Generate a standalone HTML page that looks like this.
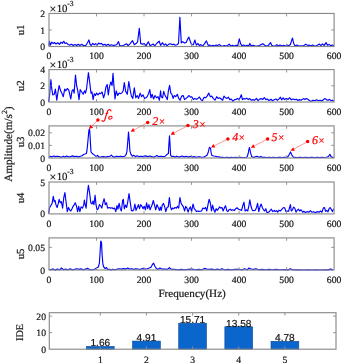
<!DOCTYPE html>
<html><head><meta charset="utf-8"><style>
html,body{margin:0;padding:0;background:#fff;}
svg{display:block;will-change:transform;text-rendering:geometricPrecision;}
text{stroke:#141414;stroke-width:0.2px;}
text.r{stroke:#ff0000;}
text.w{stroke:none;}
</style></head><body>
<svg width="342" height="363" viewBox="0 0 342 363">
<rect width="342" height="363" fill="#fff"/>
<g font-family='"Liberation Serif", serif' font-size="9.7" fill="#141414">
<polyline points="48.9,45.7 49.5,41.3 50.4,45.1 51.8,42.2 53.0,43.4 54.4,42.5 56.0,44.0 57.7,42.8 59.5,44.3 61.0,42.2 62.4,43.4 63.8,41.3 65.0,43.6 66.5,42.8 68.2,44.5 70.0,45.1 71.5,44.3 73.1,45.5 75.0,44.5 76.6,45.5 78.2,44.3 79.9,45.5 81.7,44.3 83.4,45.5 85.8,45.5 87.5,42.8 88.9,39.9 90.1,44.5 91.3,45.5 92.8,43.4 94.3,44.8 95.7,43.6 97.1,45.1 98.6,43.1 100.1,44.0 101.5,43.4 102.9,45.1 104.8,44.3 106.2,45.5 108.0,44.3 109.7,45.5 111.5,44.8 113.2,45.5 115.0,45.1 116.7,44.8 118.5,41.6 119.7,45.5 121.4,45.7 122.5,45.7 124.3,45.0 126.7,43.8 128.1,45.7 130.2,43.6 132.5,40.6 134.3,44.7 136.0,43.6 137.6,41.8 139.3,28.3 140.7,43.6 142.5,44.1 144.2,43.6 146.0,45.9 148.3,41.8 150.1,45.7 151.8,44.7 153.3,44.1 154.7,45.9 157.1,43.0 159.2,41.2 160.6,45.3 162.6,42.7 164.1,45.2 165.6,43.8 167.0,45.8 168.8,44.1 170.5,43.8 172.3,44.7 173.8,44.1 175.2,45.2 177.0,44.7 178.5,43.5 179.9,17.2 181.3,42.9 182.8,41.7 184.6,43.1 186.3,42.3 187.5,39.4 188.9,37.1 190.2,41.2 191.6,44.7 193.3,44.7 194.9,40.0 196.3,45.2 198.0,43.5 199.4,45.6 200.9,44.6 202.7,46.1 204.4,43.8 206.4,40.9 208.3,45.6 209.7,45.0 211.1,46.1 213.0,45.3 214.4,46.1 216.1,45.0 217.6,45.6 219.1,44.4 220.8,45.8 222.6,46.1 224.3,45.6 226.1,46.1 227.8,45.3 229.3,44.1 230.7,46.1 232.5,45.3 234.3,46.1 236.0,45.3 237.8,45.3 239.3,38.8 240.7,43.8 242.1,45.8 243.6,45.0 245.4,46.1 247.1,45.3 248.9,45.8 249.8,43.4 251.0,45.8 253.0,45.3 254.7,45.8 257.1,46.1 259.4,45.6 261.1,44.6 262.9,43.8 264.7,45.3 266.4,46.1 268.2,45.6 270.5,42.6 271.7,45.3 273.2,46.1 275.4,45.8 276.9,44.6 278.4,46.1 280.1,45.0 282.0,46.1 283.6,45.3 285.5,46.1 287.1,45.0 288.6,45.8 290.4,44.6 291.5,40.9 292.5,38.0 293.6,43.2 295.1,46.1 296.8,45.0 298.6,46.1 300.7,45.8 302.7,46.1 304.4,45.3 305.8,44.1 307.7,45.6 309.1,45.0 310.8,46.1 312.6,45.0 314.3,45.8 316.0,46.1 317.8,45.0 319.5,44.1 320.9,45.6 322.5,43.8 324.2,45.6 326.0,42.6 327.5,45.3 329.1,44.4 330.7,45.6 332.4,45.0 333.8,45.8" fill="none" stroke="#0000ff" stroke-width="1.15" stroke-linejoin="round"/>
<polyline points="48.6,101.9 49.5,96.1 50.9,79.7 51.8,89.1 52.8,94.9 54.2,94.3 55.4,89.1 56.8,100.2 57.9,92.6 59.1,85.5 60.6,90.8 61.8,93.1 63.3,96.7 64.7,89.1 65.9,90.8 67.3,88.5 68.8,90.2 70.8,99.0 72.0,90.8 73.1,89.6 74.1,93.1 75.5,75.0 76.6,85.5 77.8,90.8 79.0,99.6 80.2,89.6 81.7,92.0 83.2,94.3 84.6,90.8 85.5,93.1 86.6,88.5 88.4,72.7 89.8,83.2 91.0,93.1 92.0,92.0 93.1,99.6 94.3,93.7 95.5,95.5 96.6,93.1 98.0,94.9 99.4,93.1 100.6,93.7 102.1,92.0 103.6,97.8 104.8,93.7 106.0,86.7 107.2,84.4 108.3,94.9 109.5,86.7 110.9,82.0 112.1,85.5 113.0,73.3 114.2,89.1 115.0,99.0 116.2,90.8 117.7,95.5 119.1,93.1 120.8,93.7 122.0,92.6 123.2,90.8 124.3,82.6 125.7,91.4 127.3,94.3 128.8,81.5 130.2,90.2 131.4,96.1 132.8,98.4 134.3,87.9 135.8,97.8 137.2,95.5 138.6,98.4 140.1,93.1 141.6,96.7 143.1,94.9 144.5,98.4 146.0,97.8 147.5,96.1 148.7,93.1 149.8,89.6 151.0,97.8 152.2,94.3 153.6,99.0 155.0,95.5 156.5,97.8 158.0,96.7 159.4,100.2 160.6,90.8 161.2,96.7 162.6,97.8 163.7,91.4 164.9,94.9 166.1,97.2 167.3,99.6 168.4,90.8 169.6,85.3 170.8,93.1 171.9,94.3 173.1,98.4 174.3,95.5 175.8,96.7 177.3,94.3 178.7,98.4 180.1,100.2 181.6,96.1 183.2,95.5 184.6,99.6 186.0,98.4 187.5,97.2 189.0,95.5 190.4,97.2 191.8,96.7 193.3,99.6 194.9,98.4 196.5,99.3 198.0,98.4 199.4,97.0 200.9,99.6 202.4,100.7 204.1,97.2 205.6,97.8 207.1,96.1 208.8,93.1 210.3,96.7 211.8,96.1 213.2,98.4 215.0,100.2 216.7,96.7 218.1,98.4 219.6,97.8 221.2,99.0 222.6,100.2 224.0,96.1 225.5,97.8 227.0,98.4 228.4,97.2 229.8,99.6 231.3,99.0 232.9,101.3 234.5,99.6 236.0,99.5 237.4,98.6 238.9,99.6 240.1,97.8 241.3,94.7 242.4,99.6 244.0,98.6 245.4,99.0 246.8,98.2 248.3,99.6 249.8,98.6 251.2,100.2 253.0,99.6 254.7,100.2 256.5,98.4 258.0,100.7 259.4,99.3 261.1,98.6 262.7,99.6 264.3,97.5 265.8,99.6 267.3,99.0 269.0,100.5 270.9,99.3 272.5,100.7 274.2,99.8 275.8,99.0 277.5,100.2 279.3,98.6 280.4,97.2 281.6,99.8 283.1,97.8 284.5,99.6 286.3,98.6 288.0,99.3 289.8,97.8 291.3,99.8 292.9,99.0 294.8,99.6 296.5,99.3 298.0,100.5 299.5,99.6 301.1,100.2 302.0,99.6 303.4,98.6 304.9,99.6 306.4,98.6 307.8,99.3 309.6,100.7 311.4,101.3 313.1,100.2 314.9,100.7 316.6,99.8 318.4,100.7 320.1,100.2 321.9,101.0 323.3,99.8 324.8,98.6 326.3,99.6 328.0,100.2 329.5,99.3 331.0,100.7 332.4,100.2 333.8,101.3" fill="none" stroke="#0000ff" stroke-width="1.15" stroke-linejoin="round"/>
<polyline points="48.9,157.4 50.4,156.3 51.8,156.9 53.6,156.0 55.5,156.6 57.4,156.2 59.5,156.6 61.4,157.2 63.3,156.3 65.0,157.1 66.8,155.9 68.7,156.9 70.6,156.6 72.6,155.9 74.5,156.6 76.7,156.3 78.5,156.9 80.4,156.3 82.1,155.8 83.5,154.5 85.0,154.0 86.3,153.5 86.9,151.0 87.5,145.6 88.3,136.8 88.9,130.5 89.3,129.3 89.7,130.5 90.1,136.8 90.6,145.6 91.0,151.8 92.3,153.5 94.1,154.9 96.3,156.6 97.6,155.3 98.9,157.1 101.1,156.9 103.3,156.6 105.5,157.1 107.7,156.6 109.9,156.2 111.4,155.2 112.8,156.6 114.7,157.1 116.5,156.3 118.7,156.6 120.6,156.2 122.6,156.6 124.8,156.2 126.2,154.4 127.0,150.9 127.8,141.2 128.5,132.0 129.3,141.2 129.9,150.9 131.0,154.4 132.3,156.2 133.7,155.3 135.4,156.6 137.2,155.8 138.9,156.6 141.0,156.2 143.5,156.6 145.4,155.9 147.8,156.6 149.7,156.0 151.6,156.6 153.6,157.2 155.5,156.3 157.0,155.5 158.4,156.6 160.9,156.2 163.1,156.6 165.3,156.2 167.0,154.4 168.4,153.6 168.8,145.6 169.5,135.8 170.1,145.6 170.6,155.3 171.9,156.6 173.2,156.2 175.0,157.1 176.7,156.2 178.5,157.1 180.4,156.6 182.3,156.0 184.3,156.9 186.2,156.3 188.4,157.1 190.6,156.3 192.5,157.1 194.2,156.6 196.0,157.2 198.0,156.8 199.7,156.8 201.6,157.2 203.5,157.2 205.3,156.2 207.0,155.2 208.2,152.5 209.1,148.4 209.6,147.3 210.5,148.4 211.1,152.5 211.7,155.2 213.5,156.0 215.2,156.3 216.8,156.6 218.7,156.9 220.6,157.4 222.3,157.2 224.5,157.5 226.7,157.3 228.9,157.6 231.1,157.3 233.3,157.5 235.5,157.3 237.7,157.5 239.9,157.2 242.1,157.5 244.2,157.5 246.4,157.2 247.2,156.6 248.2,153.5 248.9,149.5 249.4,147.6 249.9,149.5 250.5,152.5 250.8,153.7 251.7,156.6 253.4,157.4 255.2,156.8 257.0,156.3 258.8,157.2 260.7,156.6 262.5,157.4 264.7,157.2 266.9,157.5 269.0,157.2 271.2,157.5 273.4,157.4 275.6,157.5 277.8,157.4 280.0,157.2 282.2,157.5 284.4,157.2 286.6,157.4 287.8,156.9 289.2,154.5 290.5,151.9 291.7,154.8 293.7,157.5 295.1,157.4 297.4,157.5 299.9,157.4 302.8,157.5 305.7,157.4 308.7,157.5 311.6,157.4 314.5,157.5 317.4,157.4 319.9,157.5 321.8,157.2 324.0,157.5 326.2,157.2 328.4,156.5 329.9,154.3 331.0,156.5 332.5,157.5 333.8,157.4" fill="none" stroke="#0000ff" stroke-width="1.15" stroke-linejoin="round"/>
<polyline points="48.6,213.3 49.5,208.1 50.7,205.7 52.1,203.4 53.3,196.4 54.2,201.6 55.1,200.5 55.9,204.6 57.1,207.5 58.3,203.4 59.1,199.3 60.3,202.8 61.4,201.6 62.6,208.1 63.8,197.5 64.9,192.6 66.1,202.2 67.3,211.6 68.5,207.5 69.6,209.8 70.8,211.0 72.0,208.7 73.1,206.3 74.3,204.6 75.2,202.8 76.4,205.7 77.6,211.6 78.7,206.3 79.9,211.6 81.1,206.9 82.5,208.1 83.7,205.1 84.4,200.0 84.9,203.4 86.1,208.1 87.3,194.0 88.4,185.3 89.6,192.9 90.8,202.8 92.0,204.0 92.9,201.1 93.9,204.6 95.1,195.2 96.0,204.6 97.1,209.8 98.3,208.7 99.4,204.6 100.6,205.7 101.8,208.1 102.9,202.8 104.1,198.7 105.3,204.6 106.5,202.8 107.6,208.1 109.1,207.5 110.7,208.1 112.1,207.8 113.2,208.7 114.6,208.1 115.8,211.6 117.0,205.7 117.9,209.2 119.1,203.4 120.3,208.7 121.4,211.0 122.6,200.5 123.3,199.3 124.3,208.7 125.5,205.1 126.7,207.5 127.8,201.6 129.0,193.5 130.2,202.2 131.4,210.4 132.5,211.0 133.7,209.8 134.9,204.0 136.0,210.4 137.2,207.5 138.4,204.6 139.5,208.7 140.7,204.6 141.9,206.3 143.1,208.7 144.2,206.3 145.4,209.8 146.6,202.8 147.7,208.7 148.9,204.6 150.1,209.8 151.2,206.9 152.2,204.6 153.3,200.5 154.5,205.1 155.7,209.8 156.9,204.6 158.0,206.9 159.4,210.4 160.4,207.0 161.2,210.4 162.3,205.1 163.5,203.4 164.7,206.9 165.8,211.6 167.0,207.5 168.2,206.9 169.4,197.5 170.5,206.9 171.5,209.8 172.6,208.1 173.8,208.7 175.0,207.5 176.4,208.1 177.5,206.3 178.7,208.1 179.9,197.5 181.1,203.4 182.2,205.1 183.4,206.9 184.6,211.0 185.7,206.3 186.9,208.1 188.1,212.2 189.2,208.7 190.4,206.9 191.6,211.6 193.0,204.0 194.2,208.7 195.3,209.8 196.5,211.6 197.7,211.0 199.2,211.4 201.5,211.0 202.9,208.1 204.4,208.7 205.6,207.5 206.8,211.0 207.9,205.1 209.1,199.3 210.3,202.8 211.5,211.0 212.6,205.1 213.8,209.8 215.0,212.2 216.1,208.7 217.3,210.4 218.5,208.7 219.6,206.9 220.8,208.1 222.0,207.5 223.1,211.0 224.3,208.1 225.5,205.7 226.7,210.4 227.8,211.6 229.0,209.8 230.2,209.2 231.3,210.4 232.9,209.8 234.3,210.6 235.7,208.7 237.0,207.8 238.6,209.2 240.1,209.8 241.6,210.4 242.8,205.7 244.0,202.2 245.1,211.0 246.5,209.8 247.7,211.0 248.9,205.7 249.8,199.9 251.0,206.3 252.4,210.4 253.8,210.6 255.3,210.2 256.5,207.5 257.6,203.4 258.8,211.6 260.0,206.9 261.1,204.0 262.3,207.5 263.5,209.8 264.7,211.0 265.8,208.7 267.0,212.7 268.5,212.2 269.9,211.0 271.3,209.2 272.8,211.6 274.4,210.4 275.2,211.6 276.6,210.6 277.7,212.2 278.9,210.2 280.4,211.0 282.0,209.2 283.4,207.5 284.8,208.1 285.9,211.6 287.1,211.0 288.6,211.3 289.4,208.1 290.4,204.6 291.3,211.0 292.5,209.8 293.6,207.1 294.8,208.1 296.0,212.2 297.2,210.2 298.6,209.2 299.7,211.0 301.1,209.8 302.7,212.2 303.8,211.3 305.5,212.5 307.3,211.6 309.0,212.2 310.4,210.6 311.9,212.2 313.7,211.8 315.5,212.7 317.2,211.6 319.0,212.2 320.5,211.0 321.9,212.2 323.3,208.1 324.5,207.5 325.6,211.3 326.8,210.4 328.0,211.8 329.1,208.7 330.1,207.5 331.2,209.2 332.4,211.6 333.6,208.7" fill="none" stroke="#0000ff" stroke-width="1.15" stroke-linejoin="round"/>
<polyline points="49.2,269.4 50.9,269.8 53.0,268.9 55.1,270.1 57.4,269.1 59.7,269.8 61.4,268.0 63.5,269.8 65.6,269.1 67.9,269.8 70.2,268.9 72.3,269.8 74.4,269.4 76.7,268.7 79.0,269.4 81.1,268.9 83.2,269.8 85.5,269.1 87.8,268.4 89.9,269.8 92.2,269.7 94.4,269.2 96.6,268.1 98.3,267.0 99.4,263.1 100.1,252.1 100.8,241.1 101.5,242.2 102.1,254.3 102.9,264.2 103.8,267.0 105.2,268.6 106.5,267.5 107.6,269.5 109.3,269.2 110.9,270.0 112.6,269.2 114.2,269.8 116.6,269.4 118.9,268.7 121.2,269.1 123.6,268.6 125.9,269.1 127.7,268.0 129.4,269.1 131.7,268.7 133.8,269.4 135.9,268.7 138.2,269.1 140.5,269.4 142.6,268.4 144.7,269.1 147.0,268.7 149.3,268.0 151.0,267.2 152.2,264.9 153.5,263.1 154.9,266.3 156.3,268.4 158.0,269.4 159.8,268.0 161.9,269.1 164.6,269.1 167.3,269.4 169.4,267.7 171.1,269.1 174.3,269.4 177.8,269.8 181.3,269.4 184.8,269.8 188.3,269.4 191.8,269.1 195.3,269.8 198.8,269.4 202.0,269.8 204.5,268.4 206.7,269.1 209.4,269.4 212.0,269.1 214.6,269.8 217.3,269.1 219.9,269.8 221.8,268.7 224.4,269.8 227.9,269.4 231.4,269.8 234.9,269.4 238.4,269.4 241.9,269.8 244.6,268.7 247.2,269.8 249.0,268.0 251.2,269.1 253.3,269.4 256.0,268.7 258.6,269.8 262.1,269.4 265.6,269.8 269.1,269.4 272.6,269.8 276.1,269.4 280.0,269.8 284.0,269.6 288.0,269.9 290.3,268.7 292.5,269.8 296.0,269.9 300.0,269.7 304.0,270.0 308.0,269.8 312.0,270.0 316.0,269.7 320.0,270.0 324.0,269.8 328.0,269.9 330.6,269.1 333.0,269.9" fill="none" stroke="#0000ff" stroke-width="1.15" stroke-linejoin="round"/>
<rect x="49.0" y="13.45" width="285.10" height="33.05" fill="none" stroke="#8a8a8a" stroke-width="1.15"/>
<text x="49.00" y="59.20" text-anchor="middle">0</text>
<path d="M96.52 13.45v2.9M96.52 46.5v-2.9" stroke="#8a8a8a" stroke-width="0.9"/>
<text x="96.52" y="59.20" text-anchor="middle">100</text>
<path d="M144.03 13.45v2.9M144.03 46.5v-2.9" stroke="#8a8a8a" stroke-width="0.9"/>
<text x="144.03" y="59.20" text-anchor="middle">200</text>
<path d="M191.55 13.45v2.9M191.55 46.5v-2.9" stroke="#8a8a8a" stroke-width="0.9"/>
<text x="191.55" y="59.20" text-anchor="middle">300</text>
<path d="M239.07 13.45v2.9M239.07 46.5v-2.9" stroke="#8a8a8a" stroke-width="0.9"/>
<text x="239.07" y="59.20" text-anchor="middle">400</text>
<path d="M286.58 13.45v2.9M286.58 46.5v-2.9" stroke="#8a8a8a" stroke-width="0.9"/>
<text x="286.58" y="59.20" text-anchor="middle">500</text>
<text x="334.10" y="59.20" text-anchor="middle">600</text>
<text x="45.0" y="50.00" text-anchor="end">0</text>
<path d="M49.0 30.00h2.9M334.1 30.00h-2.9" stroke="#8a8a8a" stroke-width="0.9"/>
<text x="45.0" y="33.50" text-anchor="end">1</text>
<text x="45.0" y="16.95" text-anchor="end">2</text>
<text x="49.6" y="12.65" font-size="12">×</text><text x="56.7" y="11.65" font-size="10.8">10</text><text x="67.2" y="5.85" font-size="7.6">-3</text>
<text transform="translate(24.2,29.98) rotate(-90)" text-anchor="middle" font-size="10.8">u1</text>
<rect x="49.0" y="69.6" width="285.10" height="32.40" fill="none" stroke="#8a8a8a" stroke-width="1.15"/>
<text x="49.00" y="114.70" text-anchor="middle">0</text>
<path d="M96.52 69.6v2.9M96.52 102.0v-2.9" stroke="#8a8a8a" stroke-width="0.9"/>
<text x="96.52" y="114.70" text-anchor="middle">100</text>
<path d="M144.03 69.6v2.9M144.03 102.0v-2.9" stroke="#8a8a8a" stroke-width="0.9"/>
<text x="144.03" y="114.70" text-anchor="middle">200</text>
<path d="M191.55 69.6v2.9M191.55 102.0v-2.9" stroke="#8a8a8a" stroke-width="0.9"/>
<text x="191.55" y="114.70" text-anchor="middle">300</text>
<path d="M239.07 69.6v2.9M239.07 102.0v-2.9" stroke="#8a8a8a" stroke-width="0.9"/>
<text x="239.07" y="114.70" text-anchor="middle">400</text>
<path d="M286.58 69.6v2.9M286.58 102.0v-2.9" stroke="#8a8a8a" stroke-width="0.9"/>
<text x="286.58" y="114.70" text-anchor="middle">500</text>
<text x="334.10" y="114.70" text-anchor="middle">600</text>
<text x="45.0" y="105.50" text-anchor="end">0</text>
<path d="M49.0 85.80h2.9M334.1 85.80h-2.9" stroke="#8a8a8a" stroke-width="0.9"/>
<text x="45.0" y="89.30" text-anchor="end">2</text>
<text x="45.0" y="73.10" text-anchor="end">4</text>
<text x="49.6" y="68.80" font-size="12">×</text><text x="56.7" y="67.80" font-size="10.8">10</text><text x="67.2" y="62.00" font-size="7.6">-3</text>
<text transform="translate(24.2,85.80) rotate(-90)" text-anchor="middle" font-size="10.8">u2</text>
<rect x="49.0" y="125.9" width="285.10" height="32.10" fill="none" stroke="#8a8a8a" stroke-width="1.15"/>
<text x="49.00" y="170.70" text-anchor="middle">0</text>
<path d="M96.52 125.9v2.9M96.52 158.0v-2.9" stroke="#8a8a8a" stroke-width="0.9"/>
<text x="96.52" y="170.70" text-anchor="middle">100</text>
<path d="M144.03 125.9v2.9M144.03 158.0v-2.9" stroke="#8a8a8a" stroke-width="0.9"/>
<text x="144.03" y="170.70" text-anchor="middle">200</text>
<path d="M191.55 125.9v2.9M191.55 158.0v-2.9" stroke="#8a8a8a" stroke-width="0.9"/>
<text x="191.55" y="170.70" text-anchor="middle">300</text>
<path d="M239.07 125.9v2.9M239.07 158.0v-2.9" stroke="#8a8a8a" stroke-width="0.9"/>
<text x="239.07" y="170.70" text-anchor="middle">400</text>
<path d="M286.58 125.9v2.9M286.58 158.0v-2.9" stroke="#8a8a8a" stroke-width="0.9"/>
<text x="286.58" y="170.70" text-anchor="middle">500</text>
<text x="334.10" y="170.70" text-anchor="middle">600</text>
<text x="45.0" y="161.50" text-anchor="end">0</text>
<path d="M49.0 145.40h2.9M334.1 145.40h-2.9" stroke="#8a8a8a" stroke-width="0.9"/>
<text x="45.0" y="148.90" text-anchor="end">0.01</text>
<path d="M49.0 132.80h2.9M334.1 132.80h-2.9" stroke="#8a8a8a" stroke-width="0.9"/>
<text x="45.0" y="136.30" text-anchor="end">0.02</text>
<text transform="translate(24.2,141.95) rotate(-90)" text-anchor="middle" font-size="10.8">u3</text>
<rect x="49.0" y="182.0" width="285.10" height="31.90" fill="none" stroke="#8a8a8a" stroke-width="1.15"/>
<text x="49.00" y="226.60" text-anchor="middle">0</text>
<path d="M96.52 182.0v2.9M96.52 213.9v-2.9" stroke="#8a8a8a" stroke-width="0.9"/>
<text x="96.52" y="226.60" text-anchor="middle">100</text>
<path d="M144.03 182.0v2.9M144.03 213.9v-2.9" stroke="#8a8a8a" stroke-width="0.9"/>
<text x="144.03" y="226.60" text-anchor="middle">200</text>
<path d="M191.55 182.0v2.9M191.55 213.9v-2.9" stroke="#8a8a8a" stroke-width="0.9"/>
<text x="191.55" y="226.60" text-anchor="middle">300</text>
<path d="M239.07 182.0v2.9M239.07 213.9v-2.9" stroke="#8a8a8a" stroke-width="0.9"/>
<text x="239.07" y="226.60" text-anchor="middle">400</text>
<path d="M286.58 182.0v2.9M286.58 213.9v-2.9" stroke="#8a8a8a" stroke-width="0.9"/>
<text x="286.58" y="226.60" text-anchor="middle">500</text>
<text x="334.10" y="226.60" text-anchor="middle">600</text>
<text x="45.0" y="217.40" text-anchor="end">0</text>
<text x="45.0" y="185.50" text-anchor="end">5</text>
<text x="49.6" y="181.20" font-size="12">×</text><text x="56.7" y="180.20" font-size="10.8">10</text><text x="67.2" y="174.40" font-size="7.6">-3</text>
<text transform="translate(24.2,197.95) rotate(-90)" text-anchor="middle" font-size="10.8">u4</text>
<rect x="49.0" y="237.9" width="285.10" height="32.10" fill="none" stroke="#8a8a8a" stroke-width="1.15"/>
<text x="49.00" y="282.70" text-anchor="middle">0</text>
<path d="M96.52 237.9v2.9M96.52 270.0v-2.9" stroke="#8a8a8a" stroke-width="0.9"/>
<text x="96.52" y="282.70" text-anchor="middle">100</text>
<path d="M144.03 237.9v2.9M144.03 270.0v-2.9" stroke="#8a8a8a" stroke-width="0.9"/>
<text x="144.03" y="282.70" text-anchor="middle">200</text>
<path d="M191.55 237.9v2.9M191.55 270.0v-2.9" stroke="#8a8a8a" stroke-width="0.9"/>
<text x="191.55" y="282.70" text-anchor="middle">300</text>
<path d="M239.07 237.9v2.9M239.07 270.0v-2.9" stroke="#8a8a8a" stroke-width="0.9"/>
<text x="239.07" y="282.70" text-anchor="middle">400</text>
<path d="M286.58 237.9v2.9M286.58 270.0v-2.9" stroke="#8a8a8a" stroke-width="0.9"/>
<text x="286.58" y="282.70" text-anchor="middle">500</text>
<text x="334.10" y="282.70" text-anchor="middle">600</text>
<text x="45.0" y="273.50" text-anchor="end">0</text>
<path d="M49.0 247.40h2.9M334.1 247.40h-2.9" stroke="#8a8a8a" stroke-width="0.9"/>
<text x="45.0" y="250.90" text-anchor="end">0.05</text>
<text transform="translate(24.2,253.95) rotate(-90)" text-anchor="middle" font-size="10.8">u5</text>
<text transform="translate(12.3,144.15) rotate(-90)" text-anchor="middle" font-size="11.2">Amplitude(m/s<tspan font-size="7.8" dy="-5.3">2</tspan><tspan dy="5.3">)</tspan></text>
<text x="192.1" y="296.6" text-anchor="middle" font-size="11.15">Frequency(Hz)</text>
<rect x="86.40" y="346.45" width="27.8" height="2.75" fill="#0a66cc" stroke="#0a4a94" stroke-width="0.6"/>
<text x="100.30" y="346.25" text-anchor="middle" font-family='"Liberation Sans", sans-serif' font-size="10.1">1.66</text>
<rect x="132.55" y="341.07" width="27.8" height="8.13" fill="#0a66cc" stroke="#0a4a94" stroke-width="0.6"/>
<text x="146.45" y="340.87" text-anchor="middle" font-family='"Liberation Sans", sans-serif' font-size="10.1">4.91</text>
<rect x="178.70" y="323.20" width="27.8" height="26.00" fill="#0a66cc" stroke="#0a4a94" stroke-width="0.6"/>
<text x="192.60" y="323.00" text-anchor="middle" font-family='"Liberation Sans", sans-serif' font-size="10.1">15.71</text>
<rect x="224.85" y="326.73" width="27.8" height="22.47" fill="#0a66cc" stroke="#0a4a94" stroke-width="0.6"/>
<text x="238.75" y="326.53" text-anchor="middle" font-family='"Liberation Sans", sans-serif' font-size="10.1">13.58</text>
<rect x="271.00" y="341.29" width="27.8" height="7.91" fill="#0a66cc" stroke="#0a4a94" stroke-width="0.6"/>
<text x="284.90" y="341.09" text-anchor="middle" font-family='"Liberation Sans", sans-serif' font-size="10.1">4.78</text>
<rect x="49.3" y="312.7" width="286.70" height="36.50" fill="none" stroke="#8a8a8a" stroke-width="1.15"/>
<path d="M100.30 312.7v2.9M100.30 349.2v-2.9" stroke="#8a8a8a" stroke-width="0.9"/>
<text x="100.30" y="362.90" text-anchor="middle">1</text>
<path d="M146.45 312.7v2.9M146.45 349.2v-2.9" stroke="#8a8a8a" stroke-width="0.9"/>
<text x="146.45" y="362.90" text-anchor="middle">2</text>
<path d="M192.60 312.7v2.9M192.60 349.2v-2.9" stroke="#8a8a8a" stroke-width="0.9"/>
<text x="192.60" y="362.90" text-anchor="middle">3</text>
<path d="M238.75 312.7v2.9M238.75 349.2v-2.9" stroke="#8a8a8a" stroke-width="0.9"/>
<text x="238.75" y="362.90" text-anchor="middle">4</text>
<path d="M284.90 312.7v2.9M284.90 349.2v-2.9" stroke="#8a8a8a" stroke-width="0.9"/>
<text x="284.90" y="362.90" text-anchor="middle">5</text>
<text x="46.0" y="352.70" text-anchor="end">0</text>
<path d="M49.3 332.65h2.9M336.0 332.65h-2.9" stroke="#8a8a8a" stroke-width="0.9"/>
<text x="46.0" y="336.15" text-anchor="end">10</text>
<path d="M49.3 316.10h2.9M336.0 316.10h-2.9" stroke="#8a8a8a" stroke-width="0.9"/>
<text x="46.0" y="319.60" text-anchor="end">20</text>
<text transform="translate(22.8,332.4) rotate(-90)" text-anchor="middle" font-size="10.2">IDE</text>
<line x1="97.9" y1="120.1" x2="91.67" y2="126.26" stroke="#ff0000" stroke-width="0.55" stroke-opacity="0.75"/>
<circle cx="97.9" cy="120.1" r="1.75" fill="#ff0000"/>
<polygon points="88.90,129.00 90.27,124.84 93.08,127.68" fill="#ff0000"/>
<line x1="147.7" y1="122.5" x2="134.03" y2="129.85" stroke="#ff0000" stroke-width="0.55" stroke-opacity="0.75"/>
<circle cx="147.7" cy="122.5" r="1.75" fill="#ff0000"/>
<polygon points="130.60,131.70 133.09,128.09 134.98,131.61" fill="#ff0000"/>
<line x1="187.9" y1="125.6" x2="174.05" y2="132.88" stroke="#ff0000" stroke-width="0.55" stroke-opacity="0.75"/>
<circle cx="187.9" cy="125.6" r="1.75" fill="#ff0000"/>
<polygon points="170.60,134.70 173.12,131.11 174.98,134.65" fill="#ff0000"/>
<line x1="227.9" y1="138.9" x2="214.47" y2="145.81" stroke="#ff0000" stroke-width="0.55" stroke-opacity="0.75"/>
<circle cx="227.9" cy="138.9" r="1.75" fill="#ff0000"/>
<polygon points="211.00,147.60 213.55,144.04 215.38,147.59" fill="#ff0000"/>
<line x1="267.6" y1="139.0" x2="254.26" y2="145.91" stroke="#ff0000" stroke-width="0.55" stroke-opacity="0.75"/>
<circle cx="267.6" cy="139.0" r="1.75" fill="#ff0000"/>
<polygon points="250.80,147.70 253.34,144.13 255.18,147.68" fill="#ff0000"/>
<line x1="307.6" y1="141.6" x2="294.03" y2="148.94" stroke="#ff0000" stroke-width="0.55" stroke-opacity="0.75"/>
<circle cx="307.6" cy="141.6" r="1.75" fill="#ff0000"/>
<polygon points="290.60,150.80 293.08,147.18 294.98,150.70" fill="#ff0000"/>
<path d="M111.0,110.9 C110.4,109.3 108.5,109.2 107.6,111.0 L104.7,120.0 C104.1,121.5 102.8,121.7 101.9,120.7" fill="none" stroke="#ff0000" stroke-width="1.15" stroke-linecap="round"/>
<path d="M105.6,113.4 L108.5,113.1" fill="none" stroke="#ff0000" stroke-width="0.9"/>
<ellipse cx="110.4" cy="117.7" rx="1.85" ry="1.35" transform="rotate(-25 110.4 117.7)" fill="none" stroke="#ff0000" stroke-width="0.95"/>
<text x="152.3" y="125.0" class="r" fill="#ff0000" font-style="italic" font-size="12">2</text>
<text x="158.9" y="125.4" class="r" fill="#ff0000" font-size="10.6">×</text>
<text x="192.8" y="127.6" class="r" fill="#ff0000" font-style="italic" font-size="12">3</text>
<text x="199.4" y="128.0" class="r" fill="#ff0000" font-size="10.6">×</text>
<text x="232.2" y="141.0" class="r" fill="#ff0000" font-style="italic" font-size="12">4</text>
<text x="238.8" y="141.4" class="r" fill="#ff0000" font-size="10.6">×</text>
<text x="271.6" y="141.0" class="r" fill="#ff0000" font-style="italic" font-size="12">5</text>
<text x="278.2" y="141.4" class="r" fill="#ff0000" font-size="10.6">×</text>
<text x="312.0" y="143.6" class="r" fill="#ff0000" font-style="italic" font-size="12">6</text>
<text x="318.6" y="144.0" class="r" fill="#ff0000" font-size="10.6">×</text>
</g>
</svg>
</body></html>
